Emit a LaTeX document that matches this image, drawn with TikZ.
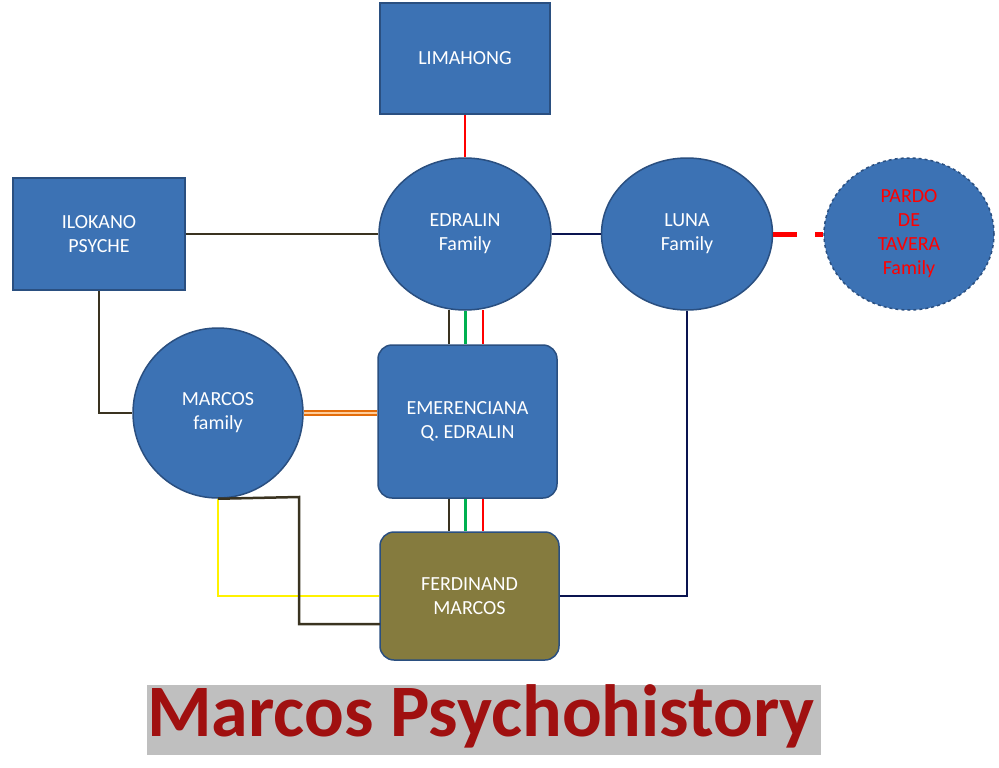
\documentclass[tikz,border=0pt]{standalone}
\usepackage{fontspec}
\setmainfont{Carlito}
\usetikzlibrary{shapes.geometric,shadows}
\definecolor{boxblue}{HTML}{3C72B4}
\definecolor{edge}{HTML}{2A4F80}
\definecolor{olive}{HTML}{857B3E}
\definecolor{darkl}{HTML}{3A3320}
\definecolor{navy}{HTML}{0A1450}
\definecolor{gr}{HTML}{00B050}
\definecolor{orng}{HTML}{E36C0A}
\definecolor{ttl}{HTML}{A01010}
\tikzset{
 base/.style={draw=edge,line width=1.5pt,fill=boxblue,text=white,font=\fontsize{20}{24}\selectfont,align=center,inner sep=0pt},
 rbox/.style={base,rectangle},
 ell/.style={base,ellipse},
 rr/.style={base,rectangle,rounded corners=14pt},
 ln/.style={line width=2.5pt},
}
\begin{document}
\begin{tikzpicture}[x=1pt,y=-1pt]
\useasboundingbox (0,0) rectangle (999,768);
\node[rbox,minimum width=170,minimum height=111] (lim) at (465,58.5) {LIMAHONG};
\node[rbox,minimum width=172,minimum height=112] (ilo) at (99,234) {ILOKANO\\PSYCHE};
\node[ell,minimum width=172,minimum height=152] (edr) at (465,234) {EDRALIN\\Family};
\node[ell,minimum width=171,minimum height=152] (luna) at (687,234) {LUNA\\Family};
\node[ell,dashed,minimum width=170,minimum height=152,text=red] (pardo) at (909,234) {PARDO\\DE\\TAVERA\\Family};
\node[base,circle,minimum size=170] (mar) at (218,413) {MARCOS\\family};
\node[rr,minimum width=179,minimum height=153] (eme) at (467.5,421.5) {EMERENCIANA\\Q. EDRALIN};
\node[rr,fill=olive,minimum width=179,minimum height=128] (fer) at (469.5,596) {FERDINAND\\MARCOS};
\node[font=\bfseries\fontsize{74}{80}\selectfont,text=ttl,drop shadow={shadow xshift=3pt,shadow yshift=-4pt,opacity=0.5}] (title) at (481,716) {Marcos Psychohistory};
% connectors
\draw[ln,red] (lim.south) -- (edr.north);
\draw[ln,darkl] (ilo.east) -- (edr.west);
\draw[ln,navy] (edr.east) -- (luna.east -| luna.west);
\draw[ln,darkl] (ilo.south) |- (mar.west);
\coordinate (e1) at (449,310); \coordinate (e2) at (465,310); \coordinate (e3) at (483,310);
\draw[ln,darkl] (e1) -- (e1 |- eme.north);
\draw[ln,gr,line width=3pt] (e2 |- edr.south) -- (e2 |- eme.north);
\draw[ln,red] (e3) -- (e3 |- eme.north);
\draw[ln,darkl] (e1 |- eme.south) -- (e1 |- fer.north);
\draw[ln,gr,line width=3pt] (e2 |- eme.south) -- (e2 |- fer.north);
\draw[ln,red] (e3 |- eme.south) -- (e3 |- fer.north);
\draw[orng,double=orange!40,double distance=2pt,line width=2pt] (mar.east) -- (eme.west |- mar.east);
\draw[ln,yellow] (mar.south) |- (fer.west);
\coordinate (d1) at (299,497);
\coordinate (d2) at (380,624);
\draw[ln,darkl] (mar.south) -- (d1) |- (d2);
\draw[ln,navy] (luna.south) |- (fer.east);
\coordinate (p1) at (797,234); \coordinate (p2) at (815,234);
\draw[red,double=white,double distance=2pt,line width=1.5pt] (luna.east) -- (p1);
\draw[red,line width=1.2pt] (luna.east) -- (p1);
\draw[red,double=white,double distance=2pt,line width=1.5pt] (p2) -- (pardo.west);
\draw[red,line width=1.2pt] (p2) -- (pardo.west);
\end{tikzpicture}
\end{document}
